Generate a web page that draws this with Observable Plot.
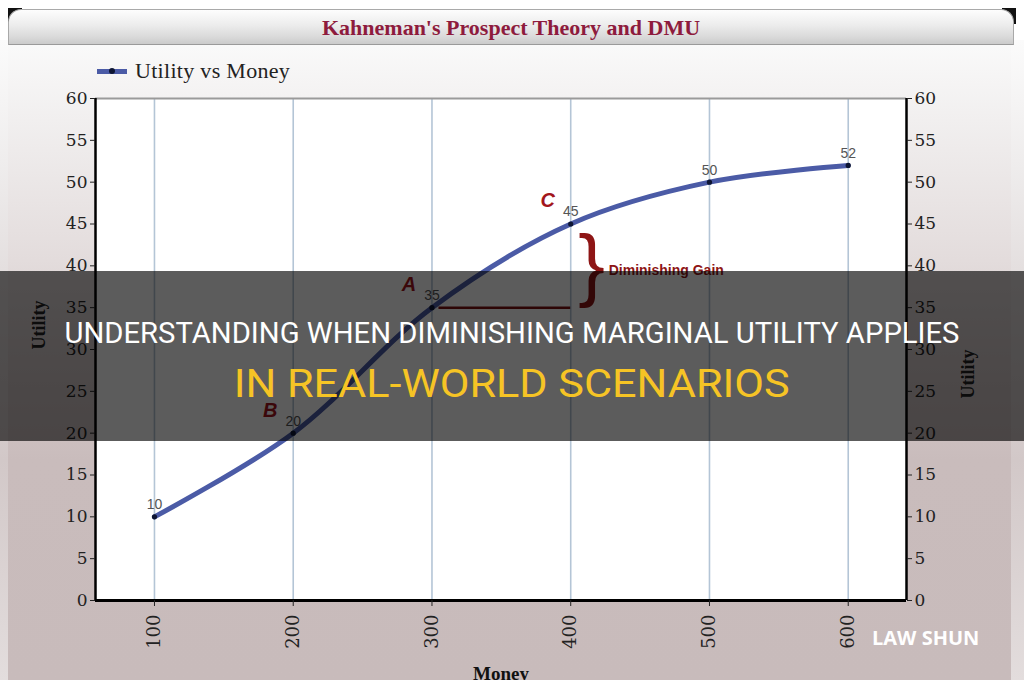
<!DOCTYPE html>
<html>
<head>
<meta charset="utf-8">
<script src="https://cdn.jsdelivr.net/npm/d3@7"></script>
<script src="https://cdn.jsdelivr.net/npm/@observablehq/plot@0.6"></script>
<style>
  html, body { margin: 0; padding: 0; }
  body { width: 1024px; height: 680px; overflow: hidden; position: relative; background: #fff; }
  #outer { position: absolute; left: 0; top: 40px; width: 1024px; height: 640px;
    background: linear-gradient(to bottom, #fbfbfb 0px, #efeded 120px, #ddd6d6 300px, #d2c8c8 420px, #e3dddd 640px); }
  #bg { position: absolute; left: 8px; top: 40px; width: 1003px; height: 640px;
    background: linear-gradient(to bottom, #fafafa 0px, #f1efef 80px, #e3dcdc 220px, #d2c7c7 340px, #c9bcbc 420px, #c8bbbb 640px); }
  .corner { position: absolute; top: 8px; width: 14px; height: 16px; background: #111; }
  #titlebar { position: absolute; left: 8px; top: 9px; width: 1006px; height: 36px;
    border-radius: 13px 13px 0 0; border: 1px solid #a9a9a9; border-bottom: 1px solid #9a9a9a;
    background: linear-gradient(to bottom, #fdfdfd 0%, #ececec 45%, #d9d9d9 80%, #cbcbcb 100%);
    box-sizing: border-box; text-align: center; }
  #titlebar span { font-family: "Liberation Serif", serif; font-weight: bold; font-size: 22px;
    color: #8e1b3d; line-height: 36px; display: inline-block; }
  #legend { position: absolute; left: 97px; top: 59px; height: 24px; display: flex; align-items: center;
    font-family: "Liberation Serif", serif; font-size: 22px; letter-spacing: 0.3px; color: #222; }
  #legend .sw { width: 30px; height: 5px; background: #4b5ba6; position: relative; margin-right: 8px; }
  #legend .sw i { position: absolute; left: 12px; top: -0.5px; width: 6px; height: 6px; border-radius: 50%; background: #0d1533; }
  #chart { position: absolute; left: 0; top: 50px; }
  #banner { position: absolute; left: 0; top: 271px; width: 1024px; height: 170px; background: rgba(0,0,0,0.64); }
  .bline { position: absolute; left: 0; width: 1024px; text-align: center; white-space: nowrap; font-family: Roboto, "Liberation Sans", sans-serif; }
  .bline span { display: inline-block; transform-origin: 50% 50%; }
  #l1 { top: 313px; font-size: 29px; line-height: 40px; color: #ffffff; }
  #l2 { top: 360px; font-size: 38px; line-height: 48px; color: #f6c425; }
  #wm { position: absolute; left: 872px; top: 626px; font-family: "Open Sans", "Liberation Sans", sans-serif;
    font-weight: bold; font-size: 20px; line-height: 24px; color: #ffffff; white-space: nowrap; }
</style>
</head>
<body>
<div id="outer"></div>
<div id="bg"></div>
<div class="corner" style="left:8px"></div>
<div class="corner" style="left:1002px"></div>
<div id="titlebar"><span id="title">Kahneman's Prospect Theory and DMU</span></div>
<div id="legend"><div class="sw"><i></i></div><span>Utility vs Money</span></div>
<div id="chart"></div>
<div id="banner"></div>
<div class="bline" id="l1"><span>UNDERSTANDING WHEN DIMINISHING MARGINAL UTILITY APPLIES</span></div>
<div class="bline" id="l2"><span>IN REAL-WORLD SCENARIOS</span></div>
<div id="wm">LAW SHUN</div>
<script>
// ---- data ----
const money = [100, 200, 300, 400, 500, 600];
const utility = [10, 20, 35, 45, 50, 52];
const xTicks = [100, 200, 300, 400, 500, 600];
const yTicks = [0, 5, 10, 15, 20, 25, 30, 35, 40, 45, 50, 55, 60];
const xDomain = [57.5, 642];
const yDomain = [0, 60];
const letterNames = ["A", "B", "C"];
const letterMoney = [300, 200, 400];
const gainLabel = "Diminishing Gain";

const data = money.map((m, i) => ({ money: m, utility: utility[i] }));
const letters = letterNames.map((n, i) => ({ name: n, money: letterMoney[i], utility: utility[money.indexOf(letterMoney[i])] }));
const gainMid = (utility[2] + utility[3]) / 2;

const serif = "DejaVu Serif";
const red = "#8e1515";

const chart = Plot.plot({
  width: 1024,
  height: 630,
  marginLeft: 95,
  marginRight: 118,
  marginTop: 48,
  marginBottom: 80,
  style: { background: "transparent", overflow: "visible" },
  x: { domain: xDomain },
  y: { domain: yDomain },
  marks: [
    Plot.frame({ fill: "white", stroke: "none" }),
    Plot.ruleX(xTicks, { stroke: "#b4c5d6", strokeWidth: 1.6 }),
    Plot.ruleY([yDomain[1]], { stroke: "#9a9a9a", strokeWidth: 2 }),
    Plot.ruleX([xDomain[0]], { stroke: "#000", strokeWidth: 2.5 }),
    Plot.ruleX([xDomain[1]], { stroke: "#000", strokeWidth: 2.5 }),
    Plot.ruleY([yDomain[0]], { stroke: "#000", strokeWidth: 3 }),
    Plot.axisY({ anchor: "left", ticks: yTicks, tickSize: 5, tickPadding: 3, fontSize: 17, fontFamily: serif, color: "#222", label: null }),
    Plot.axisY({ anchor: "right", ticks: yTicks, tickSize: 5, tickPadding: 3, fontSize: 17, fontFamily: serif, color: "#222", label: null }),
    Plot.axisX({ anchor: "bottom", ticks: xTicks, tickRotate: -90, tickSize: 6, tickPadding: 8, fontSize: 18, fontFamily: serif, color: "#222", label: null }),
    Plot.text(["Utility"], { frameAnchor: "left", rotate: -90, dx: -56, fontSize: 18, fontWeight: "bold", fontFamily: "Liberation Serif", fill: "#222" }),
    Plot.text(["Utility"], { frameAnchor: "right", rotate: -90, dx: 62, fontSize: 18, fontWeight: "bold", fontFamily: "Liberation Serif", fill: "#222" }),
    Plot.text(["Money"], { frameAnchor: "bottom", dy: 66, lineAnchor: "top", fontSize: 19, fontWeight: "bold", fontFamily: "Liberation Serif", fill: "#111" }),
    Plot.line(data, { x: "money", y: "utility", curve: "catmull-rom", stroke: "#4b5ba6", strokeWidth: 5, strokeLinecap: "round" }),
    Plot.dot(data, { x: "money", y: "utility", r: 2.6, fill: "#0d1533" }),
    Plot.text(data, { x: "money", y: "utility", text: d => String(d.utility), dy: -12, fontSize: 14, fontFamily: "Liberation Sans", fill: "#555" }),
    Plot.text(letters, { x: "money", y: "utility", text: "name", dx: -23, dy: -23, fontSize: 20, fontWeight: "bold", fontStyle: "italic", fontFamily: "Liberation Sans", fill: "#a3161c" }),
    Plot.ruleY([utility[2]], { x1: money[2], x2: money[3], insetLeft: 7, stroke: "#7d1313", strokeWidth: 2.5 }),
    Plot.text(["}"], { x: money[3], y: gainMid, dx: 21, fontSize: 80, fontFamily: "Liberation Sans", fill: red }),
    Plot.text([gainLabel], { x: money[3], y: gainMid, dx: 38, dy: 5, textAnchor: "start", fontSize: 14, fontWeight: "bold", fontFamily: "Liberation Sans", fill: red })
  ]
});
document.getElementById("chart").appendChild(chart);

// fit banner lines to the reference widths
function fit(id, target) {
  const s = document.querySelector("#" + id + " span");
  const w = s.getBoundingClientRect().width;
  if (w > 0) s.style.transform = "scaleX(" + (target / w) + ")";
}
fit("l1", 895);
fit("l2", 556);
</script>
</body>
</html>
